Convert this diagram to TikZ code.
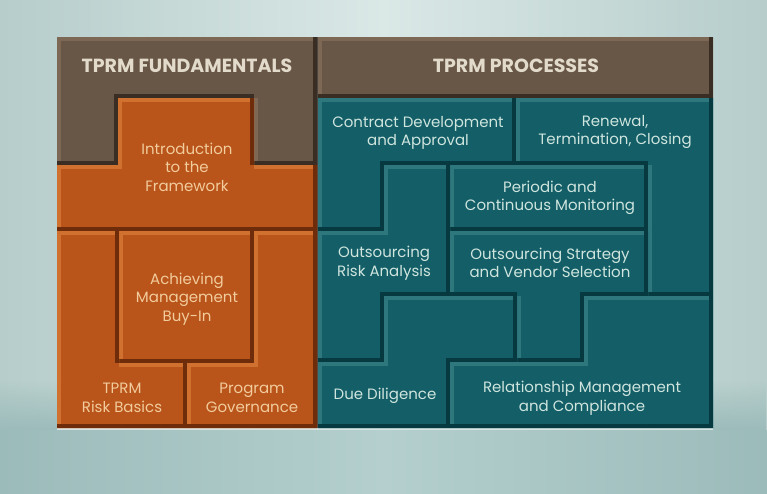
\documentclass[tikz,border=0pt]{standalone}
\usepackage{fontspec}
\setmainfont{Poppins}
\usetikzlibrary{fadings}
\begin{document}
\begin{tikzpicture}[x=1pt,y=-1pt,
  bodytxt/.style={align=center,font=\fontsize{15}{18.5}\selectfont,inner sep=0pt},
  hdrtxt/.style={align=center,font=\fontsize{19}{22}\selectfont\bfseries,inner sep=0pt,text=hdrtext},
  ortxt/.style={bodytxt,text=ortext},
  tltxt/.style={bodytxt,text=tltext}]
\definecolor{bgedge}{HTML}{B6CDCB}
\definecolor{bgmid}{HTML}{DAE8E6}
\definecolor{floorA}{HTML}{9BBBBA}
\definecolor{floorM}{HTML}{B4CFCD}
\definecolor{brownM}{HTML}{685646}
\definecolor{brownL}{HTML}{7C6855}
\definecolor{brownD}{HTML}{3A2D24}
\definecolor{orM}{HTML}{B9541A}
\definecolor{orL}{HTML}{D0712F}
\definecolor{orD}{HTML}{6E2C0A}
\definecolor{tlM}{HTML}{135E67}
\definecolor{tlL}{HTML}{2E777C}
\definecolor{tlD}{HTML}{073A40}
\definecolor{hdrtext}{HTML}{E2DACA}
\definecolor{ortext}{HTML}{F2CC9C}
\definecolor{tltext}{HTML}{CFE5DE}
\definecolor{rimline}{HTML}{D6E3E1}
\newcommand{\bpiece}[4]{%
  \fill[#1] #4;
  \begin{scope}
    \clip #4;
    \draw[#2, line width=4, shift={(2,2)}] #4;
    \draw[#3, line width=4, shift={(-2,-2)}] #4;
  \end{scope}}
\useasboundingbox (0,0) rectangle (767,493);
% background
\shade[left color=bgedge, right color=bgedge, middle color=bgmid] (0,0) rectangle (767,430);
\fill[floorA, path fading=north] (0,380) rectangle (767,431);
\shade[left color=floorA, right color=floorA, middle color=floorM] (0,430) rectangle (767,493);
% board backplate
\fill[black!75] (57,37) rectangle (713,428);
\fill[rimline] (57,428) rectangle (713,430);
% left panel
\bpiece{brownM}{brownL}{brownD}{(57,37) -- (317,37) -- (317,165) -- (254,165) -- (254,98) -- (118,98) -- (118,165) -- (57,165) -- cycle}
\bpiece{orM}{orL}{orD}{(118,98) -- (254,98) -- (254,165) -- (317,165) -- (317,231) -- (57,231) -- (57,165) -- (118,165) -- cycle}
\bpiece{orM}{orL}{orD}{(119,231) -- (254,231) -- (254,363) -- (119,363) -- cycle}
\bpiece{orM}{orL}{orD}{(57,231) -- (119,231) -- (119,363) -- (187,363) -- (187,428) -- (57,428) -- cycle}
\bpiece{orM}{orL}{orD}{(254,231) -- (317,231) -- (317,428) -- (187,428) -- (187,363) -- (254,363) -- cycle}
% right panel
\bpiece{brownM}{brownL}{brownD}{(318,37) -- (713,37) -- (713,98) -- (318,98) -- cycle}
\bpiece{tlM}{tlL}{tlD}{(318,98) -- (516,98) -- (516,165) -- (384,165) -- (384,231) -- (318,231) -- cycle}
\bpiece{tlM}{tlL}{tlD}{(516,98) -- (713,98) -- (713,296) -- (648,296) -- (648,165) -- (516,165) -- cycle}
\bpiece{tlM}{tlL}{tlD}{(450,165) -- (648,165) -- (648,231) -- (450,231) -- cycle}
\bpiece{tlM}{tlL}{tlD}{(384,165) -- (450,165) -- (450,296) -- (384,296) -- (384,362) -- (318,362) -- (318,231) -- (384,231) -- cycle}
\bpiece{tlM}{tlL}{tlD}{(450,231) -- (648,231) -- (648,296) -- (584,296) -- (584,362) -- (517,362) -- (517,296) -- (450,296) -- cycle}
\bpiece{tlM}{tlL}{tlD}{(384,296) -- (517,296) -- (517,362) -- (450,362) -- (450,428) -- (318,428) -- (318,362) -- (384,362) -- cycle}
\bpiece{tlM}{tlL}{tlD}{(450,362) -- (584,362) -- (584,296) -- (713,296) -- (713,428) -- (450,428) -- cycle}
% texts
\node[hdrtxt] (fund) at (187,66) {TPRM FUNDAMENTALS};
\node[hdrtxt] (proc) at (516,66) {TPRM PROCESSES};
\node[ortxt] (intro) at (187,167) {Introduction\\to the\\Framework};
\node[ortxt] (buyin) at (187,299) {Achieving\\Management\\Buy-In};
\node[ortxt] (risk) at (122,398) {TPRM\\Risk Basics};
\node[ortxt] (gov) at (252,398) {Program\\Governance};
\node[tltxt] (contract) at (418,133) {Contract Development\\and Approval};
\node[tltxt] (renew) at (615,132) {Renewal,\\Termination, Closing};
\node[tltxt] (monitor) at (550,198) {Periodic and\\Continuous Monitoring};
\node[tltxt] (ora) at (384,263) {Outsourcing\\Risk Analysis};
\node[tltxt] (osvs) at (550,263) {Outsourcing Strategy\\and Vendor Selection};
\node[tltxt] (dd) at (385,396) {Due Diligence};
\node[tltxt] (rm) at (582,398) {Relationship Management\\and Compliance};
\end{tikzpicture}
\end{document}
